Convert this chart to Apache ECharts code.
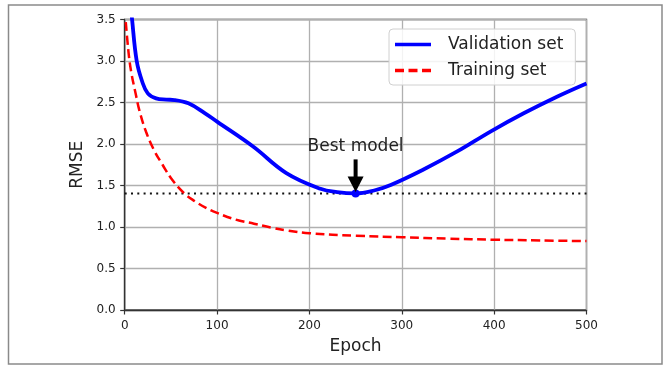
<!DOCTYPE html>
<html>
<head>
<meta charset="utf-8">
<script src="https://cdn.jsdelivr.net/npm/echarts@6/dist/echarts.min.js"></script>
<style>
html,body{margin:0;padding:0;background:#fff;}
#chart{width:671px;height:372px;}
</style>
</head>
<body>
<div id="chart"></div>
<script>
// ---- data ----
var valEpochs = [5, 8, 13, 19, 25, 34, 45, 54, 69, 87, 100, 139, 175, 212, 230, 250, 270, 288, 323, 360, 396, 432, 468, 500];
var valRmse   = [3.85, 3.5, 3.0, 2.75, 2.61, 2.55, 2.535, 2.53, 2.49, 2.37, 2.27, 1.97, 1.65, 1.46, 1.42, 1.405, 1.44, 1.506, 1.69, 1.91, 2.15, 2.37, 2.57, 2.73];
var trEpochs  = [0, 4, 7, 12, 16, 23, 32, 41, 50, 64, 76, 88, 100, 120, 140, 160, 175, 200, 250, 300, 350, 400, 450, 500];
var trRmse    = [3.63, 3.12, 2.87, 2.6, 2.4, 2.15, 1.92, 1.75, 1.59, 1.41, 1.31, 1.23, 1.17, 1.09, 1.04, 0.99, 0.96, 0.925, 0.895, 0.877, 0.86, 0.847, 0.838, 0.83];
var bestEpoch = 250;
var bestRmse  = 1.405;
var lineSpan  = [0, 500];
var xTicks = [0, 100, 200, 300, 400, 500];
var yTicks = [0.0, 0.5, 1.0, 1.5, 2.0, 2.5, 3.0, 3.5];
var seriesNames = ['Validation set', 'Training set'];
var annotationText = 'Best model';

function zip(a, b) { return a.map(function (v, i) { return [v, b[i]]; }); }

var chart = echarts.init(document.getElementById('chart'), null, {renderer: 'canvas'});
var textColor = '#222';
var font = 'DejaVu Sans';

var option = {
  animation: false,
  backgroundColor: '#fff',
  graphic: [{
    type: 'rect',
    shape: {x: 8.5, y: 5, width: 653.5, height: 359},
    style: {fill: 'none', stroke: '#8a8a8a', lineWidth: 1.5},
    silent: true
  }],
  grid: {
    left: 124.7, right: 84.5, top: 19.5, bottom: 62,
    show: true, borderColor: '#333', borderWidth: 1.3, backgroundColor: 'transparent'
  },
  legend: {
    data: [
      {name: seriesNames[0], icon: 'path://M0,0H40V4H0Z', itemStyle: {color: '#0000ff'}},
      {name: seriesNames[1], icon: 'path://M0,0H10V4H0Z M15,0H25V4H15Z M30,0H40V4H30Z', itemStyle: {color: '#ff0000'}}
    ],
    orient: 'vertical',
    left: 389, top: 29,
    backgroundColor: 'rgba(255,255,255,0.85)',
    borderColor: '#d0d0d0', borderWidth: 1, borderRadius: 4,
    padding: [6, 12, 5, 6],
    itemGap: 7,
    itemWidth: 40, itemHeight: 3.6,
    textStyle: {fontFamily: font, fontSize: 17, color: textColor, padding: [0, 0, 0, 10], lineHeight: 19}
  },
  xAxis: {
    type: 'value', min: xTicks[0], max: xTicks[xTicks.length - 1], interval: 100,
    name: 'Epoch', nameLocation: 'middle', nameGap: 28,
    nameTextStyle: {fontFamily: font, fontSize: 17, color: textColor},
    axisLine: {show: true, lineStyle: {color: '#333', width: 1.3}},
    axisTick: {show: true, length: 4.5, lineStyle: {color: '#333', width: 1.2}},
    axisLabel: {fontFamily: font, fontSize: 12, color: textColor, margin: 10,
      formatter: function (v) { return String(v); }},
    splitLine: {show: true, lineStyle: {color: '#b0b0b0', width: 1.3}}
  },
  yAxis: {
    type: 'value', min: yTicks[0], max: yTicks[yTicks.length - 1], interval: 0.5,
    name: 'RMSE', nameLocation: 'middle', nameGap: 31, nameRotate: 90,
    nameTextStyle: {fontFamily: font, fontSize: 17, color: textColor},
    axisLine: {show: true, lineStyle: {color: '#333', width: 1.3}},
    axisTick: {show: true, length: 4.5, lineStyle: {color: '#333', width: 1.2}},
    axisLabel: {fontFamily: font, fontSize: 12, color: textColor, margin: 9,
      formatter: function (v) { return v.toFixed(1); }},
    splitLine: {show: true, lineStyle: {color: '#b0b0b0', width: 1.3}}
  },
  series: [
    {
      name: seriesNames[0], type: 'line', data: zip(valEpochs, valRmse),
      smooth: 0.4, showSymbol: false, symbol: 'none', clip: true,
      lineStyle: {color: '#0000ff', width: 3.8}, itemStyle: {color: '#0000ff'}, z: 4
    },
    {
      name: seriesNames[1], type: 'line', data: zip(trEpochs, trRmse),
      smooth: 0.4, showSymbol: false, symbol: 'none', clip: true,
      lineStyle: {color: '#ff0000', width: 2.5, type: [9, 4.5]}, itemStyle: {color: '#ff0000'}, z: 3
    },
    {
      name: 'best-line', type: 'line', data: zip(lineSpan, [bestRmse, bestRmse]),
      showSymbol: false, symbol: 'none', silent: true,
      lineStyle: {color: '#111', width: 2, type: [2, 4.3]}, z: 2
    },
    {
      name: 'best-model', type: 'custom', data: [[bestEpoch, bestRmse]], silent: true, z: 5,
      renderItem: function (params, api) {
        var p = api.coord([api.value(0), api.value(1)]);
        return {
          type: 'group',
          children: [
            {type: 'circle', shape: {cx: p[0], cy: p[1], r: 4}, style: {fill: '#0000ff'}},
            {type: 'rect', shape: {x: p[0] - 2, y: p[1] - 34, width: 4, height: 18}, style: {fill: '#000'}},
            {type: 'polygon', shape: {points: [[p[0] - 8, p[1] - 17], [p[0] + 8, p[1] - 17], [p[0], p[1] - 1.5]]}, style: {fill: '#000'}},
            {type: 'text', x: p[0], y: p[1] - 47,
              style: {text: annotationText, fontFamily: font, fontSize: 17, fill: textColor,
                align: 'center', verticalAlign: 'middle'}}
          ]
        };
      }
    }
  ]
};
chart.setOption(option);
</script>
</body>
</html>
